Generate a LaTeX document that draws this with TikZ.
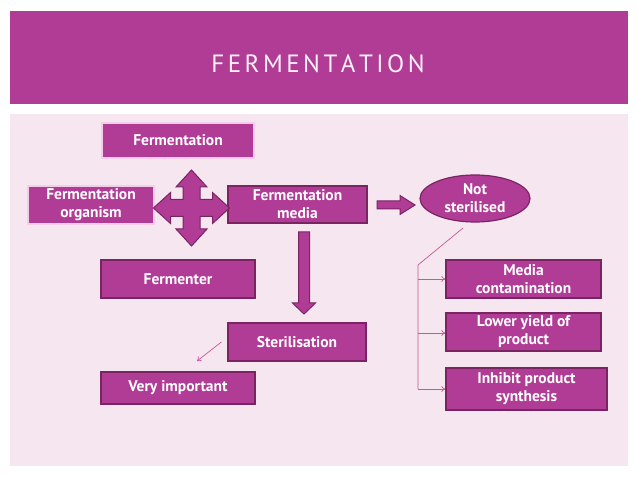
\documentclass[tikz,border=0pt]{standalone}
\usepackage{fontspec}
\setmainfont{PT Sans}
\newfontfamily\titlefont{PT Sans}
\usetikzlibrary{shapes.geometric,calc,arrows.meta}
\definecolor{mag}{RGB}{176,60,150}
\definecolor{panel}{RGB}{245,230,240}
\definecolor{darkb}{RGB}{122,36,98}
\definecolor{lightb}{RGB}{245,205,235}
\definecolor{conn}{RGB}{200,88,150}
\definecolor{titletext}{RGB}{252,240,250}
\newcommand{\tk}{\kern3.5pt}
\tikzset{
  boxtxt/.style={text=white,font=\bfseries\fontsize{15.5}{18}\selectfont,align=center,inner sep=0pt},
  pbox/.style={boxtxt,rectangle,fill=mag,draw=darkb,line width=1.2pt},
  lbox/.style={boxtxt,rectangle,fill=mag,draw=lightb,line width=1.6pt},
  pell/.style={boxtxt,ellipse,fill=mag,draw=darkb,line width=1.2pt},
  blockarrow/.style={fill=mag,draw=darkb,line width=1pt,line join=miter},
  link/.style={draw=conn,line width=0.7pt},
  linkarrow/.style={link,-{To[length=4pt,width=6pt]}}
}
\begin{document}
\begin{tikzpicture}[x=1pt,y=-1pt]
\useasboundingbox (0,0) rectangle (638,478);
\fill[white] (0,0) rectangle (638,478);
\fill[mag] (10,11) rectangle (628,104);
\fill[panel] (10,114) rectangle (628,466);
\node[text=titletext,font=\titlefont\fontsize{25}{29}\selectfont] (title) at (318,64) {F\tk E\tk R\tk M\tk E\tk N\tk T\tk A\tk T\tk I\tk O\tk N};

% boxes
\node[lbox,minimum width=152pt,minimum height=35pt] (ferm) at (178,140.5) {Fermentation};
\node[lbox,minimum width=126pt,minimum height=38pt] (org) at (91,205) {Fermentation\\organism};
\node[pbox,minimum width=139pt,minimum height=37pt] (media) at (297.5,204.5) {Fermentation\\media};
\node[pbox,minimum width=154pt,minimum height=38pt] (fermenter) at (178,279) {Fermenter};
\node[pbox,minimum width=138pt,minimum height=38pt] (steril) at (297,342) {Sterilisation};
\node[pbox,minimum width=154pt,minimum height=32pt] (veryimp) at (178,388) {Very important};
\node[pell,minimum width=110pt,minimum height=47pt] (notst) at (475,198.5) {Not\\sterilised};
\node[pbox,minimum width=155pt,minimum height=38pt] (mediacont) at (523.5,279) {Media\\contamination};
\node[pbox,minimum width=155pt,minimum height=38pt] (lower) at (523.5,332) {Lower yield of\\product};
\node[pbox,minimum width=161pt,minimum height=42pt] (inhibit) at (526.5,389) {Inhibit product\\synthesis};

% four-way arrow
\def\L{38}\def\hl{17}\def\h{15.5}\def\s{8.5}
\draw[blockarrow,shift={(191.5,208)}]
 (0,-\L) -- (\h,-\L+\hl) -- (\s,-\L+\hl) -- (\s,-\s) -- (\L-\hl,-\s) -- (\L-\hl,-\h) -- (\L,0)
 -- (\L-\hl,\h) -- (\L-\hl,\s) -- (\s,\s) -- (\s,\L-\hl) -- (\h,\L-\hl) -- (0,\L)
 -- (-\h,\L-\hl) -- (-\s,\L-\hl) -- (-\s,\s) -- (-\L+\hl,\s) -- (-\L+\hl,\h) -- (-\L,0)
 -- (-\L+\hl,-\h) -- (-\L+\hl,-\s) -- (-\s,-\s) -- (-\s,-\L+\hl) -- (-\h,-\L+\hl) -- cycle;

% right block arrow
\draw[blockarrow] (377,201) -- (400,201) -- (400,195.5) -- (415,205) -- (400,214.5) -- (400,209) -- (377,209) -- cycle;

% down block arrow
\draw[blockarrow] (298.5,232) -- (309.5,232) -- (309.5,303) -- (315.5,303) -- (304,314) -- (292.5,303) -- (298.5,303) -- cycle;

% connectors
\coordinate (s0) at ($(steril.west)+(-6,0)$);
\coordinate (s1) at (197,361);
\draw[linkarrow] (s0) -- (s1);

\coordinate (n0) at (463,228);
\coordinate (n1) at (418,265);
\coordinate (b1) at (418,279);
\coordinate (b2) at (418,333);
\coordinate (b3) at (418,389);
\draw[link] (n0) -- (n1) -- (b3);
\draw[linkarrow] (b1) -- (mediacont.west);
\draw[linkarrow] (b2) -- (lower.west |- b2);
\draw[linkarrow] (b3) -- (inhibit.west |- b3);
\end{tikzpicture}
\end{document}
